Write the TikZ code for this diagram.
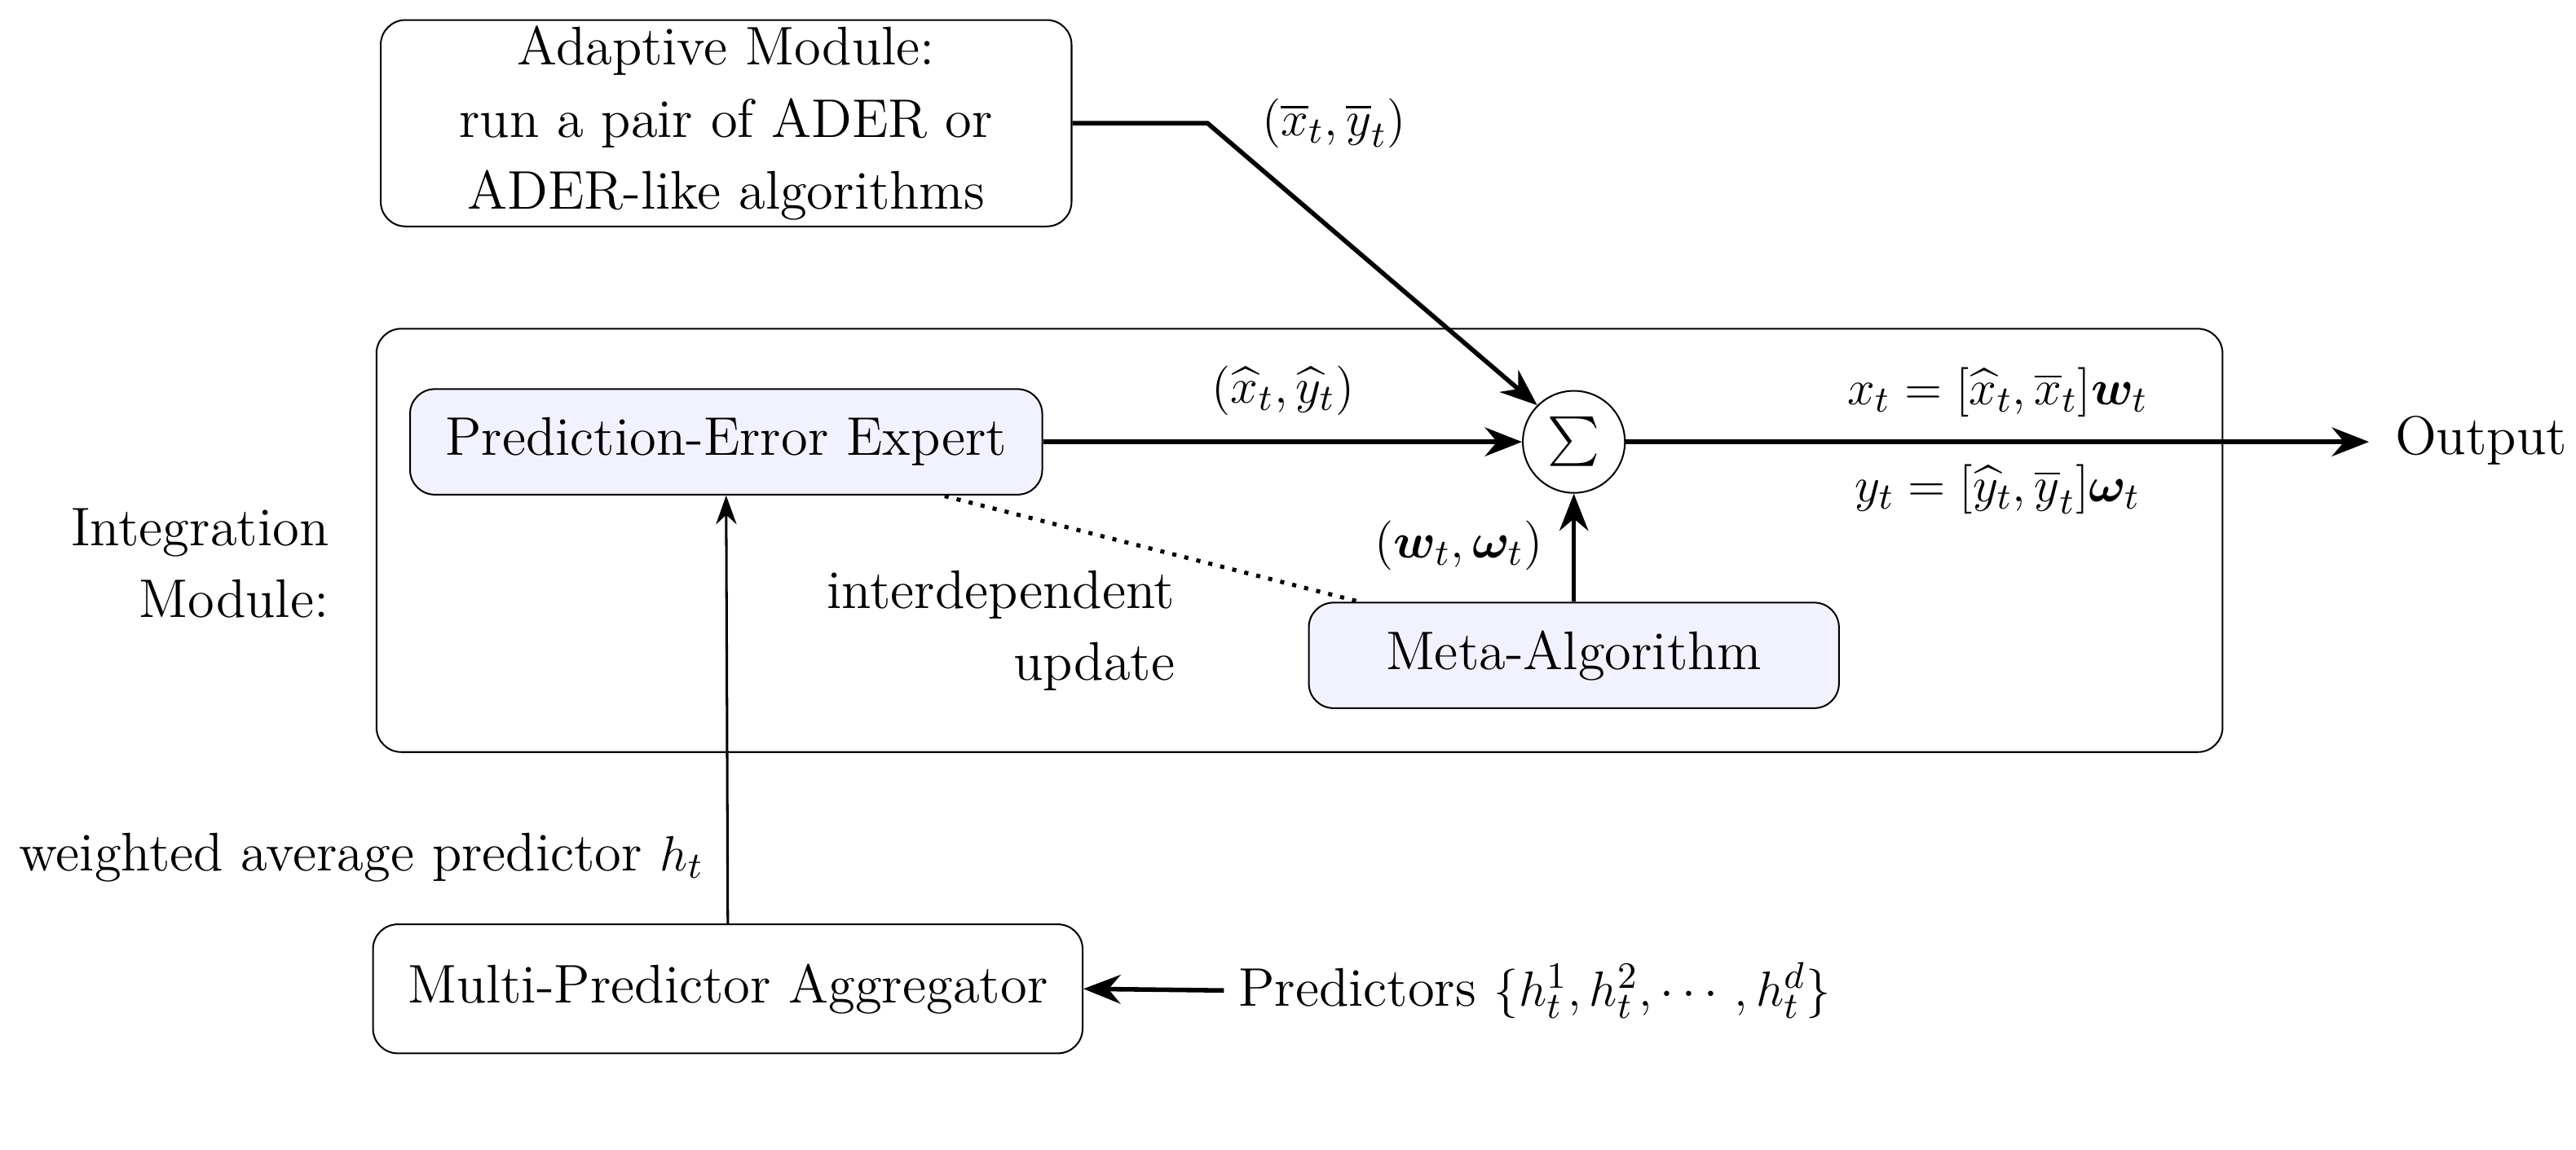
\documentclass[tikz,border=0pt]{standalone}
\usepackage{amsmath,bm}
\usetikzlibrary{arrows.meta}
\begin{document}
\begin{tikzpicture}[x=0.014cm,y=-0.014cm,
  box/.style={draw,rounded corners=6pt,align=center,inner sep=0pt},
  inner/.style={box,fill=blue!5},
  conn/.style={line width=1.1pt,-{Stealth[length=9pt,width=7pt]}},
  thinconn/.style={line width=0.6pt,-{Stealth[length=7pt,width=5pt]}},
  lbl/.style={font=\fontsize{13.2}{17.5}\selectfont}]
\useasboundingbox (0,0) rectangle (1568,700);
\node[box,minimum width=5.89cm,minimum height=1.76cm,lbl] (ada) at (442,75) {Adaptive Module:\\ run a pair of ADER or\\ ADER-like algorithms};
\node[box,minimum width=15.74cm,minimum height=3.61cm] (int) at (791,329) {};
\node[inner,minimum width=5.39cm,minimum height=0.9cm,lbl] (pee) at (442,269) {Prediction-Error Expert};
\node[inner,minimum width=4.52cm,minimum height=0.9cm,lbl] (meta) at (958,399) {Meta-Algorithm};
\node[draw,circle,minimum size=0.87cm,inner sep=0pt,lbl] (sig) at (958,269) {$\sum$};
\node[box,minimum width=6.05cm,minimum height=1.1cm,lbl] (mpa) at (443,602) {Multi-Predictor Aggregator};
\node[lbl,anchor=west] (out) at (1449,268) {Output};
\node[lbl,anchor=west] (pred) at (745,603) {Predictors $\{h_t^1,h_t^2,\cdots,h_t^d\}$};
\node[lbl,align=right,anchor=east] (im) at (209,343) {Integration\\ Module:};
\node[lbl] (wap) at (220,522) {weighted average predictor $h_t$};
\node[lbl,align=right,anchor=east] (idu) at (724,384) {interdependent\\ update};
\node[lbl] (l1) at (812,75) {$(\overline{x}_t,\overline{y}_t)$};
\node[lbl] (l2) at (781,238) {$(\widehat{x}_t,\widehat{y}_t)$};
\node[lbl] (l3) at (1216,239) {$x_t=[\widehat{x}_t,\overline{x}_t]\bm{w}_t$};
\node[lbl] (l4) at (1216,298) {$y_t=[\widehat{y}_t,\overline{y}_t]\bm{\omega}_t$};
\node[lbl] (l5) at (888,332) {$(\bm{w}_t,\bm{\omega}_t)$};
\coordinate (bend) at (735,75);
\coordinate (outp) at (1442,269);
\coordinate (d1) at (575,302);
\coordinate (d2) at (830,367);
\draw[conn] (ada.east) -- (bend) -- (sig.north west);
\draw[conn] (pee.east) -- (sig.west);
\draw[conn] (sig.east) -- (outp);
\draw[conn] (meta.north) -- (sig.south);
\draw[thinconn] (mpa.north) -- (pee.south);
\draw[conn] (pred.west) -- (mpa.east);
\draw[dotted,line width=1pt] (d1) -- (d2);
\end{tikzpicture}
\end{document}
